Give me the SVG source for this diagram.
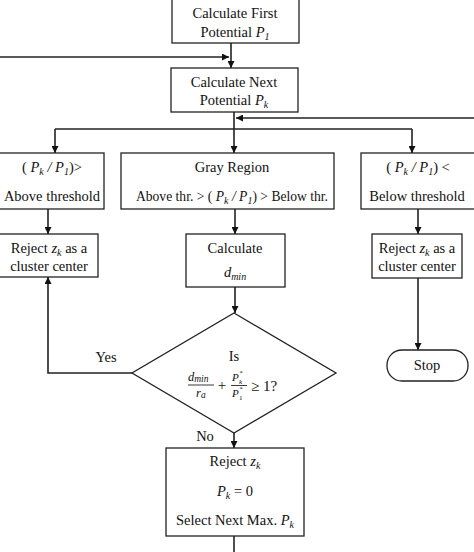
<svg xmlns="http://www.w3.org/2000/svg" width="474" height="552" viewBox="0 0 474 552">
<defs>
<marker id="ah" viewBox="0 0 10 10" refX="10" refY="5" markerWidth="7" markerHeight="7" markerUnits="userSpaceOnUse" orient="auto">
<path d="M0,0 L10,5 L0,10 z" fill="#111"/>
</marker>
<style>
.box{fill:#fff;stroke:#222;stroke-width:1.3}
.ln{fill:none;stroke:#222;stroke-width:1.6}
.ar{fill:none;stroke:#222;stroke-width:1.6;marker-end:url(#ah)}
text{font-family:"Liberation Serif","Times New Roman",serif;font-size:14.5px;fill:#111;text-anchor:middle}
.i{font-style:italic}
.s{font-size:10px;font-style:italic}
.f{font-style:italic;text-anchor:start}
.st{text-anchor:start}
</style>
</defs>
<rect width="474" height="552" fill="#fff"/>
<g id="connectors">
<path class="ar" d="M231,43 V68"/>
<path class="ar" d="M0,57 H229"/>
<path class="ar" d="M474,118 H236"/>
<path class="ar" d="M234,112 V153"/>
<path class="ln" d="M55,129 H412"/>
<path class="ar" d="M55,129 V153"/>
<path class="ar" d="M412,129 V153"/>
<path class="ar" d="M48,209 V234"/>
<path class="ar" d="M235,209 V234"/>
<path class="ar" d="M418,209 V234"/>
<path class="ar" d="M235,287 V313"/>
<path class="ar" d="M418,278 V350"/>
<path class="ar" d="M133,373 H48 V277"/>
<path class="ar" d="M234,433 V448"/>
<path class="ln" d="M234,536 V552"/>
<text x="106" y="362">Yes</text>
<text x="205" y="441">No</text>
</g>
<g id="n1">
<rect class="box" x="172" y="-2" width="127" height="45"/>
<text x="235" y="18">Calculate First</text>
<text x="235" y="37">Potential <tspan class="i">P</tspan><tspan class="s" dy="3">1</tspan></text>
</g>
<g id="n2">
<rect class="box" x="171" y="68" width="127" height="44"/>
<text x="234" y="87">Calculate Next</text>
<text x="234" y="105">Potential <tspan class="i">P</tspan><tspan class="s" dy="3">k</tspan></text>
</g>
<g id="n3">
<rect class="box" x="-1" y="153" width="105" height="56"/>
<text x="52" y="172">( <tspan class="i">P</tspan><tspan class="s" dy="3">k</tspan><tspan dy="-3" class="i"> / P</tspan><tspan class="s" dy="3">1</tspan><tspan dy="-3">)&gt;</tspan></text>
<text x="52" y="201">Above threshold</text>
</g>
<g id="n4">
<rect class="box" x="121" y="153" width="213" height="56"/>
<text x="232" y="172">Gray Region</text>
<text x="232" y="201" style="font-size:13.6px">Above thr. &gt; (  <tspan class="i">P</tspan><tspan class="s" dy="3">k</tspan><tspan dy="-3" class="i"> / P</tspan><tspan class="s" dy="3">1</tspan><tspan dy="-3">) &gt; Below thr.</tspan></text>
</g>
<g id="n5">
<rect class="box" x="361" y="153" width="115" height="56"/>
<text x="418" y="172">( <tspan class="i">P</tspan><tspan class="s" dy="3">k</tspan><tspan dy="-3" class="i"> / P</tspan><tspan class="s" dy="3">1</tspan><tspan dy="-3">) &lt;</tspan></text>
<text x="417" y="201">Below threshold</text>
</g>
<g id="n6">
<rect class="box" x="-1" y="234" width="99" height="43"/>
<text x="49" y="253">Reject <tspan class="i">z</tspan><tspan class="s" dy="3">k</tspan><tspan dy="-3"> as a</tspan></text>
<text x="49" y="271">cluster center</text>
</g>
<g id="n7">
<rect class="box" x="186" y="234" width="99" height="53"/>
<text x="235" y="253">Calculate</text>
<text x="235" y="277"><tspan class="i">d</tspan><tspan class="s" dy="3">min</tspan></text>
</g>
<g id="n8">
<rect class="box" x="372" y="234" width="90" height="44"/>
<text x="417" y="253">Reject <tspan class="i">z</tspan><tspan class="s" dy="3">k</tspan><tspan dy="-3"> as a</tspan></text>
<text x="417" y="271">cluster center</text>
</g>
<g id="n9">
<path class="box" d="M234,313 L336,373 L234,433 L132,373 Z"/>
<text x="234" y="361">Is</text>
<text x="188" y="381" class="f" style="font-size:12.5px">d<tspan dy="1" style="font-size:9.5px">min</tspan></text>
<line x1="188" y1="385" x2="214" y2="385" stroke="#222" stroke-width="0.9"/>
<text x="196" y="397" class="f" style="font-size:12.5px">r<tspan dy="1" style="font-size:9.5px">a</tspan></text>
<text x="222" y="390" style="font-size:15px">+</text>
<text x="232" y="381" class="f" style="font-size:11px">P</text>
<text x="239.5" y="375" class="st" style="font-size:6.5px">*</text>
<text x="239" y="384" class="f" style="font-size:7px">k</text>
<line x1="231" y1="385.5" x2="247" y2="385.5" stroke="#222" stroke-width="0.9"/>
<text x="232" y="397" class="f" style="font-size:11px">P</text>
<text x="239.5" y="391" class="st" style="font-size:6.5px">*</text>
<text x="239" y="399.5" class="st" style="font-size:7px">1</text>
<text x="251" y="391" class="st" style="font-size:15px">≥ 1?</text>
</g>
<g id="n10">
<rect class="box" x="387" y="350" width="81" height="31" rx="15" ry="15"/>
<text x="427" y="370">Stop</text>
</g>
<g id="n11">
<rect class="box" x="166" y="448" width="138" height="88"/>
<text x="235" y="466">Reject <tspan class="i">z</tspan><tspan class="s" dy="3">k</tspan></text>
<text x="235" y="496"><tspan class="i">P</tspan><tspan class="s" dy="3">k</tspan><tspan dy="-3"> = 0</tspan></text>
<text x="235" y="525">Select Next Max. <tspan class="i">P</tspan><tspan class="s" dy="3">k</tspan></text>
</g>
</svg>
